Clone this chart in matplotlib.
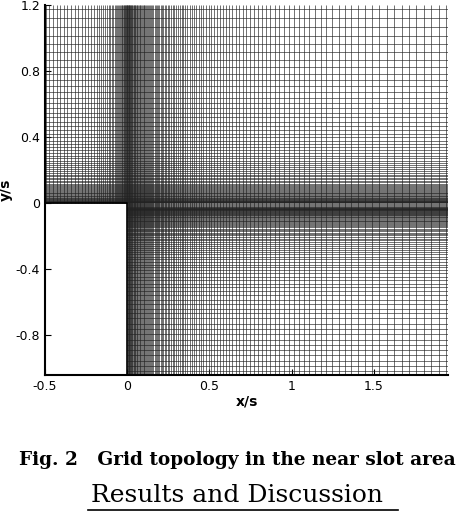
import numpy as np
import matplotlib
matplotlib.use("Agg")
import matplotlib.pyplot as plt
from matplotlib.collections import LineCollection

# grid stretching parameters: (start, direction, first spacing, growth ratio, max spacing, end)
x_right = (0.0, 1, 0.0025, 1.028, 0.045, 1.95)
x_left = (0.0, -1, 0.0025, 1.07, 0.022, -0.5)
y_up = (0.0, 1, 0.002, 1.05, 0.055, 1.2)
y_down = (-0.035, -1, 0.002, 1.045, 0.032, -1.05)
y_band = (-0.035, 1, 0.0015, 1.25, 0.01, -0.004)
xticks = [-0.5, 0, 0.5, 1, 1.5]
yticks = [-0.8, -0.4, 0, 0.4, 0.8, 1.2]

def stretch(p):
    s, d, h, r, hmax, e = p
    pts = [s]
    while (pts[-1] - e) * d < 0:
        pts.append(pts[-1] + d * h)
        h = min(h * r, hmax)
    return np.array(pts)

fig = plt.figure(figsize=(4.74, 5.13), dpi=100)
ax = fig.add_axes([45/474, 138/513, 403/474, 370/513])
xmin, xmax, ymin, ymax = -0.5, 1.95, -1.045, 1.2
segs = []
for x in stretch(x_right):
    segs.append([(x, ymin), (x, ymax)])
for x in stretch(x_left):
    segs.append([(x, 0), (x, ymax)])
for y in stretch(y_up):
    segs.append([(xmin, y), (xmax, y)])
for y in np.concatenate([stretch(y_down), stretch(y_band)]):
    segs.append([(0, y), (xmax, y)])
ax.add_collection(LineCollection(segs, colors='#222222', linewidths=0.45))
ax.plot([xmin, 0, 0], [0, 0, ymin], color='black', lw=1.2)
ax.set_xlim(xmin, xmax)
ax.set_ylim(ymin, ymax)
ax.set_xticks(xticks)
ax.set_xticklabels(['-0.5', '0', '0.5', '1', '1.5'])
ax.set_yticks(yticks)
ax.set_yticklabels(['-0.8', '-0.4', '0', '0.4', '0.8', '1.2'])
ax.tick_params(direction='in', labelsize=9, length=4)
ax.set_xlabel('x/s', fontweight='bold', fontsize=10, labelpad=1)
ax.set_ylabel('y/s', fontweight='bold', fontsize=10, labelpad=2)
ax.spines['top'].set_visible(False)
ax.spines['right'].set_visible(False)
for s in ('left', 'bottom'):
    ax.spines[s].set_linewidth(1.5)

fig.text(0.5, 1-460/513, 'Fig. 2   Grid topology in the near slot area', ha='center', va='center',
         family='DejaVu Serif', fontweight='bold', fontsize=13.3)
t = fig.text(0.5, 1-495/513, 'Results and Discussion', ha='center', va='center',
             family='DejaVu Serif', fontsize=18)
fig.add_artist(plt.Line2D([88/474, 398/474], [1-510/513]*2, color='black', lw=1.2))
fig.savefig('out.png', dpi=100)
